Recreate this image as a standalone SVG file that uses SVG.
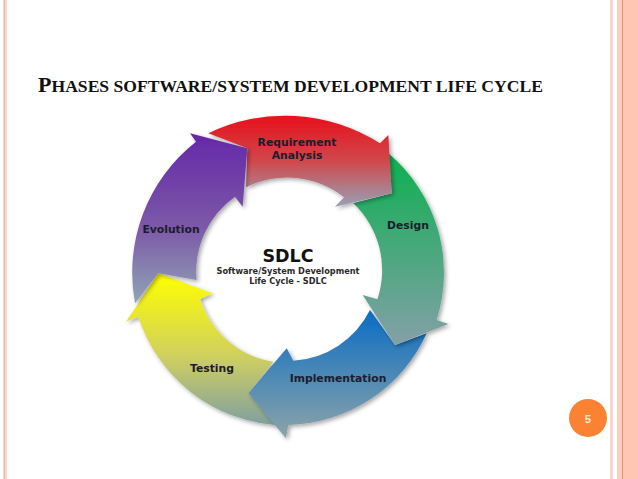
<svg xmlns="http://www.w3.org/2000/svg" width="638" height="479" viewBox="0 0 638 479">
<style>
.l{font-family:"DejaVu Sans",Verdana,sans-serif;font-weight:700;text-anchor:middle;fill:#1c1c2c;font-size:10.8px}
.s{font-size:8.2px;fill:#2a2a2a}
.t{font-family:"Liberation Serif","Times New Roman",serif;font-weight:700;fill:#111;font-size:17.6px}
.a{filter:url(#sh)}
</style>
<defs>
<linearGradient id="gr" x1="0" y1="0" x2="0" y2="1"><stop offset="0" stop-color="#e8101c"/><stop offset=".5" stop-color="#d0484c"/><stop offset="1" stop-color="#98a0b4"/></linearGradient>
<linearGradient id="gg" x1="0" y1="0" x2="0" y2="1"><stop offset="0" stop-color="#0cb050"/><stop offset="1" stop-color="#84a0a8"/></linearGradient>
<linearGradient id="gb" x1="0" y1="0" x2="0" y2="1"><stop offset="0" stop-color="#0a6cc4"/><stop offset="1" stop-color="#8ca4a8"/></linearGradient>
<linearGradient id="gy" x1="0" y1="0" x2="0" y2="1"><stop offset="0" stop-color="#ffff00"/><stop offset=".55" stop-color="#cfcf60"/><stop offset="1" stop-color="#80a0a0"/></linearGradient>
<linearGradient id="gp" x1="0" y1="0" x2="0" y2="1"><stop offset="0" stop-color="#6428a8"/><stop offset=".55" stop-color="#7c58a8"/><stop offset="1" stop-color="#90a4b4"/></linearGradient>
<filter id="sh" x="-10%" y="-10%" width="125%" height="125%"><feDropShadow dx="6" dy="6" stdDeviation="7" flood-color="#000" flood-opacity=".35"/></filter>
</defs>
<rect width="638" height="479" fill="#fff"/>
<g id="slide-frame">
<rect x="3" y="0" width="4" height="479" fill="#f8d8cc"/>
<rect x="4" y="0" width="1" height="479" fill="#f0b8a4"/>
<rect x="610" y="0" width="3" height="479" fill="#fad4c8"/>
<rect x="617" y="0" width="5" height="479" fill="#fcd0c0"/>
<rect x="622" y="0" width="1" height="479" fill="#f09070"/>
<rect x="623" y="0" width="15" height="479" fill="#ffc6b4"/>
</g>
<text id="title" class="t" x="38" y="91.500"><tspan font-size="22">P</tspan>HASES SOFTWARE/SYSTEM DEVELOPMENT LIFE CYCLE</text>
<g id="connectors" transform="translate(120 100) scale(.33333)">
<path id="arrow-testing" class="a" fill="url(#gy)" d="M18,665L115,520L278,580L240,597A275,275 0 0 0 460,785L385,880L470,975A468,468 0 0 1 55,650Z"/>
<path id="arrow-implementation" class="a" fill="url(#gb)" d="M500,745L385,880L498,1015L505,975A468,468 0 0 0 920,700L825,735L750,630A275,275 0 0 1 520,782Z"/>
<path id="arrow-design" class="a" fill="url(#gg)" d="M805,160A468,468 0 0 1 950,660L985,672L825,735L728,585L772,598A275,275 0 0 0 700,310L815,280Z"/>
<path id="arrow-requirement" class="a" fill="url(#gr)" d="M265,100A530,530 0 0 1 780,130L805,105L815,280L645,320L672,292A275,275 0 0 0 378,262L382,145Z"/>
<path id="arrow-evolution" class="a" fill="url(#gp)" d="M210,100L382,145L368,320L345,290A275,275 0 0 0 230,540L115,520L45,610A500,500 0 0 1 228,125Z"/>
</g>
<g id="node-requirement"><text class="l" x="297" y="146">Requirement</text><text class="l" x="297" y="159">Analysis</text></g>
<g id="node-design"><text class="l" x="408" y="229">Design</text></g>
<g id="node-implementation"><text class="l" x="338" y="382">Implementation</text></g>
<g id="node-testing"><text class="l" x="212" y="372">Testing</text></g>
<g id="node-evolution"><text class="l" x="171" y="233">Evolution</text></g>
<g id="node-sdlc"><text class="l" x="288" y="262" style="font-size:17.500px;fill:#111">SDLC</text><text class="l s" x="288" y="274">Software/System Development</text><text class="l s" x="288" y="284">Life Cycle - SDLC</text></g>
<g id="page-number"><circle cx="588" cy="418" r="19" fill="#fa8232"/><text x="588" y="422.500" text-anchor="middle" font-family="Liberation Sans,Arial,sans-serif" font-weight="700" font-size="11.500" fill="#fde8d4">5</text></g>
</svg>
